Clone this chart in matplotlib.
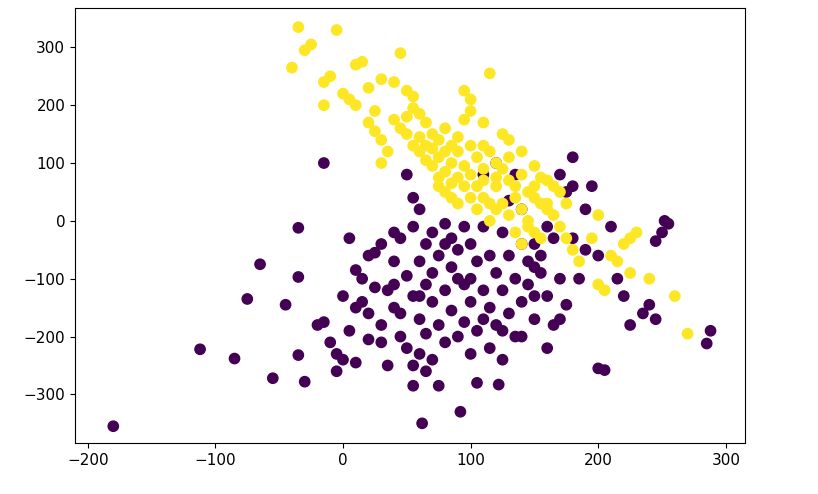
import numpy as np
import matplotlib.pyplot as plt

yellow = [(-35,335),(-5,330),(-40,265),(-30,295),(-25,305),(-15,240),(-10,250),(-15,200),(0,220),(5,210),(10,200),(10,270),(15,275),(20,230),(30,245),(40,240),(45,290),(50,225),(55,215),(25,190),(20,170),(25,155),(30,140),(35,120),(30,100),(40,175),(45,160),(50,150),(50,180),(55,195),(60,185),(65,170),(70,150),(75,140),(80,160),(85,130),(90,145),(95,175),(100,210),(95,225),(100,190),(110,170),(115,255),(60,120),(65,105),(70,95),(75,110),(80,85),(85,100),(90,120),(95,95),(100,80),(105,110),(110,130),(115,120),(120,100),(125,150),(130,140),(125,90),(130,70),(135,60),(140,80),(145,50),(150,40),(155,30),(160,20),(165,10),(170,-10),(175,-30),(180,-50),(185,-70),(195,-30),(200,10),(210,-60),(215,-70),(220,-40),(225,-30),(225,-90),(230,-20),(240,-100),(200,-110),(205,-120),(260,-130),(270,-195),(105,60),(110,40),(115,30),(120,60),(125,30),(130,10),(140,20),(145,0),(150,-20),(155,-30),(140,-40),(110,70),(120,20),(135,40),(150,60),(160,70),(165,60),(175,30),(170,50),(80,50),(75,60),(85,40),(90,30),(95,60),(100,40),(105,20),(115,0),(135,-20),(145,-10),(55,130),(60,145),(65,130),(70,125),(75,75),(80,120),(85,65),(90,75),(100,130),(110,90),(120,75),(130,110),(140,120),(150,95),(155,75),(160,30)]

purple = [(-180,-355),(-112,-222),(-85,-238),(-75,-135),(-65,-75),(-55,-272),(-45,-145),(-35,-12),(-35,-97),(-35,-232),(-30,-278),(-20,-180),(-15,100),(-15,-175),(-10,-210),(-5,-230),(-5,-260),(0,-240),(0,-130),(5,-30),(5,-190),(10,-85),(10,-245),(15,-100),(15,-140),(20,-160),(20,-205),(25,-55),(25,-115),(30,-40),(30,-180),(30,-210),(35,-120),(35,-250),(40,-20),(40,-70),(40,-150),(45,-30),(45,-160),(45,-200),(50,80),(50,-95),(50,-220),(55,40),(55,-10),(55,-130),(55,-250),(55,-285),(60,20),(60,-70),(60,-170),(60,-230),(65,-40),(65,-110),(65,-195),(65,-260),(70,-20),(70,-90),(70,-140),(70,-240),(75,-60),(75,-180),(75,-285),(80,-5),(80,-120),(80,-210),(85,-30),(85,-80),(85,-155),(90,-50),(90,-200),(92,-330),(95,-10),(95,-110),(95,-175),(100,-40),(100,-140),(100,-230),(105,-70),(105,-190),(105,-280),(110,-10),(110,-120),(115,-60),(115,-150),(115,-220),(120,-90),(120,-180),(122,-283),(125,-20),(125,-120),(125,-240),(130,-60),(130,-160),(135,-100),(135,-200),(140,-40),(140,-140),(145,-70),(145,-110),(150,-80),(150,-170),(155,-60),(155,-90),(160,-130),(160,-220),(165,-30),(165,-180),(170,-100),(170,-170),(175,-145),(180,110),(180,-30),(180,60),(185,-100),(190,-50),(195,60),(200,-60),(200,-255),(205,-258),(210,-10),(215,-100),(220,-130),(225,-180),(235,-160),(240,-145),(245,-170),(245,-35),(250,-20),(252,0),(255,-5),(285,-212),(288,-190),(135,80),(140,20),(150,-40),(160,-10),(170,80),(175,50),(190,20),(62,-350),(110,80),(120,100),(130,35),(100,-100),(110,-170),(80,-40),(90,-100),(140,-200),(150,-130),(125,-190),(60,-130),(40,-110),(20,-60),(10,-150)]

pts = np.array(purple + yellow, dtype=float)
labels = np.array([0] * len(purple) + [1] * len(yellow))

fig = plt.figure(figsize=(8.18, 4.94), dpi=100)
ax = fig.add_axes([75 / 818, 51 / 494, 670 / 818, 435 / 494])
ax.scatter(pts[:, 0], pts[:, 1], c=labels, cmap='viridis', s=55)
ax.set_xlim(-210, 315)
ax.set_ylim(-384, 368)
ax.set_xticks([-200, -100, 0, 100, 200, 300])
ax.set_yticks([-300, -200, -100, 0, 100, 200, 300])
ax.tick_params(labelsize=11)
fig.savefig('out.png', dpi=100)
